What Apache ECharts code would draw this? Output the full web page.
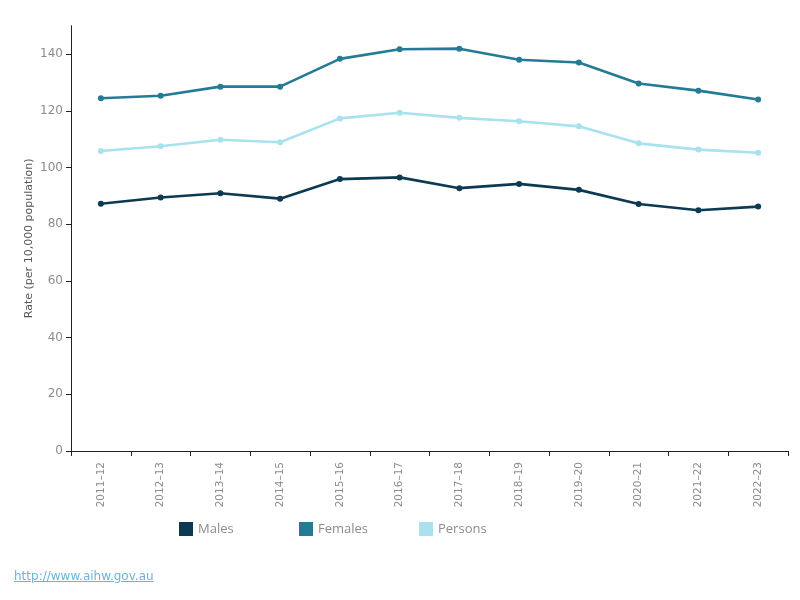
<!DOCTYPE html>
<html>
<head>
<meta charset="utf-8">
<script src="https://cdn.jsdelivr.net/npm/echarts@6/dist/echarts.min.js"></script>
<style>
  body { margin: 0; background: #fff; }
  #chart { position: absolute; left: 0; top: 0; width: 800px; height: 600px; }
  #link {
    position: absolute; left: 14px; top: 569px;
    font-family: Verdana, "DejaVu Sans", sans-serif; font-size: 12px;
    color: #6ab4dc; text-decoration: underline;
  }
</style>
</head>
<body>
<div id="chart"></div>
<a id="link" href="http://www.aihw.gov.au">http://www.aihw.gov.au</a>
<script>
// financial years
const years = ['2011–12', '2012–13', '2013–14', '2014–15', '2015–16', '2016–17',
  '2017–18', '2018–19', '2019–20', '2020–21', '2021–22', '2022–23'];
// rate per 10,000 population
const males = [87.2, 89.4, 90.9, 89.0, 95.9, 96.5, 92.7, 94.2, 92.1, 87.1, 84.9, 86.2];
const females = [124.4, 125.3, 128.5, 128.5, 138.3, 141.7, 141.9, 138.0, 137.0, 129.6, 127.1, 124.0];
const persons = [105.8, 107.5, 109.8, 108.9, 117.3, 119.3, 117.5, 116.3, 114.5, 108.5, 106.3, 105.2];
const yTicks = [0, 20, 40, 60, 80, 100, 120, 140];
const seriesNames = ['Males', 'Females', 'Persons'];

const chart = echarts.init(document.getElementById('chart'));
const grey = '#8c8c8c';

function line (name, data, color) {
  return {
    name: name,
    type: 'line',
    data: data,
    color: color,
    symbol: 'circle',
    symbolSize: 6,
    lineStyle: { width: 2.6, color: color },
    itemStyle: { color: color }
  };
}

// one legend per series so the items sit on a fixed 120px pitch
const legends = seriesNames.map((n, i) => ({
  left: 179 + i * 120,
  top: 522,
  padding: 0,
  itemWidth: 14,
  itemHeight: 14,
  icon: 'rect',
  textStyle: { fontFamily: 'Open Sans', fontSize: 13, color: grey },
  data: [n]
}));

chart.setOption({
  animation: false,
  grid: { left: 71, right: 12, top: 25.7, bottom: 149 },
  legend: legends,
  xAxis: {
    type: 'category',
    data: years,
    boundaryGap: true,
    axisLine: { lineStyle: { color: '#222', width: 1 } },
    axisTick: { show: true, interval: 0, length: 5, lineStyle: { color: '#222' } },
    axisLabel: {
      interval: 0,
      rotate: 90,
      margin: 11,
      color: grey,
      fontFamily: 'Verdana, DejaVu Sans, sans-serif',
      fontSize: 10.5
    }
  },
  yAxis: {
    type: 'value',
    min: 0,
    max: 150,
    interval: 10,
    name: 'Rate (per 10,000 population)',
    nameLocation: 'middle',
    nameGap: 36,
    nameMoveOverlap: false,
    nameTextStyle: { fontFamily: 'Verdana, DejaVu Sans, sans-serif', fontSize: 11, color: '#555' },
    axisLine: { show: true, lineStyle: { color: '#222', width: 1 } },
    axisTick: { show: true, length: 5, customValues: yTicks, lineStyle: { color: '#222' } },
    axisLabel: {
      customValues: yTicks,
      margin: 8,
      color: grey,
      fontFamily: 'Verdana, DejaVu Sans, sans-serif',
      fontSize: 12
    },
    splitLine: { show: false }
  },
  series: [
    line('Males', males, '#0c3a52'),
    line('Females', females, '#257b95'),
    line('Persons', persons, '#a8e2ee')
  ]
});
</script>
</body>
</html>
